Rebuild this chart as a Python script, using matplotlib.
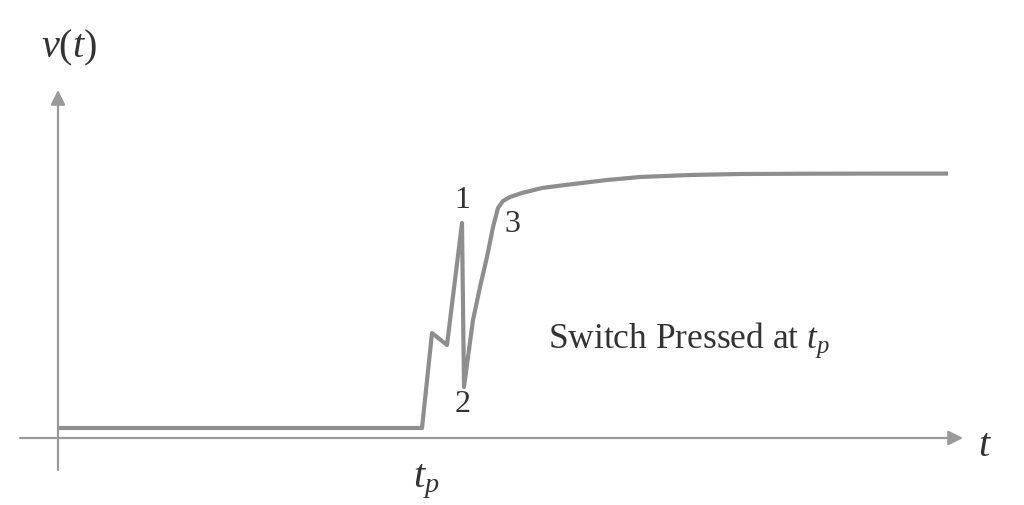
import matplotlib
matplotlib.use("Agg")
import matplotlib.pyplot as plt

plt.rcParams['font.family'] = ['Liberation Serif', 'DejaVu Serif']
plt.rcParams['mathtext.fontset'] = 'custom'
plt.rcParams['mathtext.rm'] = 'Liberation Serif'
plt.rcParams['mathtext.it'] = 'Liberation Serif:italic'

# switch bounce trace, time vs voltage (arbitrary units)
t_vals = [0, 364, 374, 389, 404, 406, 410, 415, 422, 429, 435, 440, 445,
          452, 464, 484, 507, 549, 582, 632, 682, 749, 815, 890]
v_vals = [10, 10, 105, 93, 215, 51, 81, 118, 151, 181, 211, 230, 237,
          241, 245, 250, 253, 258, 261, 263, 264, 264.3, 264.4, 264.4]

marks = [("1", 404, 238), ("2", 405, 33), ("3", 454, 213)]

fig = plt.figure(figsize=(10.24, 5.05), dpi=100)
ax = fig.add_axes([0, 0, 1, 1])
ax.set_xlim(-58, 966)
ax.set_ylim(-67, 438)
ax.axis('off')

axis_col = '#9a9a9a'
ax.annotate('', xy=(905, 0), xytext=(-38, 0),
            arrowprops=dict(arrowstyle='-|>', color=axis_col, lw=1.6,
                            mutation_scale=22, shrinkA=0, shrinkB=0))
ax.annotate('', xy=(0, 348), xytext=(0, -32),
            arrowprops=dict(arrowstyle='-|>', color=axis_col, lw=1.6,
                            mutation_scale=22, shrinkA=0, shrinkB=0))

ax.plot(t_vals, v_vals, color='#8e8e8e', lw=3.0, solid_joinstyle='round',
        solid_capstyle='butt')

txt_col = '#333333'
for lab, x, y in marks:
    ax.text(x, y, lab, fontsize=23, color=txt_col, ha='center', va='center')

ax.text(11, 390, r'$v(t)$', fontsize=29, color=txt_col, ha='center', va='center')
ax.text(927, -9, r'$t$', fontsize=29, color=txt_col, ha='center', va='center')
ax.text(368, -44, r'$t_p$', fontsize=29, color=txt_col, ha='center', va='center')
ax.text(490, 98, r'Switch Pressed at $t_p$', fontsize=25.5, color=txt_col,
        ha='left', va='center')

fig.savefig('out.png', dpi=100)
